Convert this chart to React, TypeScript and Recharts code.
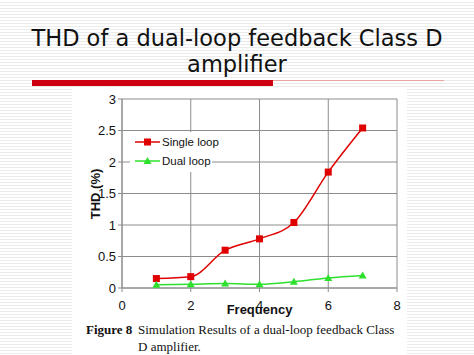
import { LineChart, Line, XAxis, YAxis, CartesianGrid, Legend } from 'recharts';

const frequency = [1, 2, 3, 4, 5, 6, 7];
const singleLoop = [0.15, 0.18, 0.6, 0.78, 1.04, 1.84, 2.54];
const dualLoop = [0.05, 0.06, 0.07, 0.06, 0.1, 0.16, 0.2];
const xTicks = [0, 2, 4, 6, 8];
const yTicks = [0, 0.5, 1, 1.5, 2, 2.5, 3];

const data = frequency.map((f, i) => ({ f, single: singleLoop[i], dual: dualLoop[i] }));

const RED = '#e00000';
const GREEN = '#2ee02e';

const SquareDot = (props: any) => {
  const { cx, cy, index } = props;
  return <rect key={`s${index}`} x={cx - 3.5} y={cy - 3.5} width={7} height={7} fill={RED} />;
};

const TriangleDot = (props: any) => {
  const { cx, cy, index } = props;
  return (
    <polygon
      key={`t${index}`}
      points={`${cx},${cy - 4} ${cx - 4},${cy + 3} ${cx + 4},${cy + 3}`}
      fill={GREEN}
    />
  );
};

const LegendBox = () => (
  <svg width={82} height={40} style={{ background: '#fff', display: 'block', overflow: 'visible' }}>
    <line x1={5} y1={10} x2={30} y2={10} stroke={RED} strokeWidth={1.5} />
    <rect x={14} y={6.5} width={7} height={7} fill={RED} />
    <text x={32} y={14} fontSize={11.5} fontFamily="Liberation Sans, Arial, sans-serif" fill="#111">Single loop</text>
    <line x1={5} y1={29} x2={30} y2={29} stroke={GREEN} strokeWidth={1.5} />
    <polygon points="17.5,25 13.5,32 21.5,32" fill={GREEN} />
    <text x={32} y={33} fontSize={11.5} fontFamily="Liberation Sans, Arial, sans-serif" fill="#111">Dual loop</text>
  </svg>
);

const tickStyle = { fontSize: 13, fontFamily: 'Liberation Sans, Arial, sans-serif', fill: '#111' };

export default function App() {
  return (
    <div
      style={{
        position: 'fixed',
        left: 0,
        top: 0,
        width: 474,
        height: 355,
        overflow: 'hidden',
        background: 'repeating-linear-gradient(to bottom, #ffffff 0px, #ffffff 2px, #ebebeb 2px, #ebebeb 3px)',
        fontFamily: 'DejaVu Sans, Verdana, sans-serif',
      }}
    >
      <div style={{ position: 'absolute', left: 72, top: 88, width: 335, height: 267, background: '#fff' }} />
      <div
        style={{
          position: 'absolute',
          left: 0,
          top: 25,
          width: 474,
          textAlign: 'center',
          fontSize: 22.5,
          lineHeight: '26px',
          color: '#111',
        }}
      >
        THD of a dual-loop feedback Class D
        <br />
        amplifier
      </div>
      <div style={{ position: 'absolute', left: 32, top: 80, width: 241, height: 6, background: '#cc0010' }} />
      <div style={{ position: 'absolute', left: 273, top: 80, width: 171, height: 1, background: '#e9a3a3' }} />

      <div style={{ position: 'absolute', left: 0, top: 0 }}>
        <LineChart width={474} height={355} data={data} margin={{ top: 99, right: 77, bottom: 37, left: 0 }}>
          <CartesianGrid stroke="#8c8c8c" strokeWidth={1} horizontalValues={yTicks} verticalValues={xTicks} />
          <XAxis
            dataKey="f"
            type="number"
            domain={[0, 8]}
            ticks={xTicks}
            height={30}
            tick={tickStyle}
            tickSize={4}
            tickMargin={9}
            stroke="#8c8c8c"
            label={{
              value: 'Frequency',
              position: 'insideBottom',
              offset: 4,
              style: { fontSize: 13, fontWeight: 'bold', fontFamily: 'Liberation Sans, Arial, sans-serif', fill: '#111' },
            }}
          />
          <YAxis
            type="number"
            domain={[0, 3]}
            ticks={yTicks}
            width={122}
            tick={tickStyle}
            tickSize={4}
            tickMargin={2}
            stroke="#8c8c8c"
            label={{
              content: () => (
                <text
                  x={100}
                  y={194}
                  transform="rotate(-90 100 194)"
                  textAnchor="middle"
                  fontSize={13}
                  fontWeight="bold"
                  fontFamily="Liberation Sans, Arial, sans-serif"
                  fill="#111"
                >
                  THD (%)
                </text>
              ),
            }}
          />
          <Legend
            layout="horizontal"
            align="center"
            verticalAlign="middle"
            wrapperStyle={{ left: 130, top: 132, width: 82 }}
            content={() => <LegendBox />}
          />
          <Line
            dataKey="single"
            name="Single loop"
            type="monotone"
            stroke={RED}
            strokeWidth={1.5}
            dot={SquareDot}
            activeDot={false}
            isAnimationActive={false}
          />
          <Line
            dataKey="dual"
            name="Dual loop"
            type="monotone"
            stroke={GREEN}
            strokeWidth={1.5}
            dot={TriangleDot}
            activeDot={false}
            isAnimationActive={false}
          />
        </LineChart>
      </div>

      <div
        style={{
          position: 'absolute',
          left: 86,
          top: 321,
          width: 330,
          fontFamily: 'Liberation Serif, Times New Roman, serif',
          fontSize: 13,
          lineHeight: '17px',
          color: '#111',
          display: 'flex',
        }}
      >
        <div style={{ fontWeight: 'bold', width: 52, flexShrink: 0 }}>Figure 8</div>
        <div>
          Simulation Results of a dual-loop feedback Class
          <br />
          D amplifier.
        </div>
      </div>
    </div>
  );
}
